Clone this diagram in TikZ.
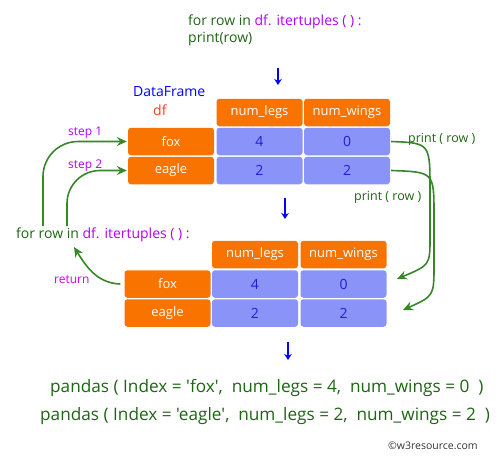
\documentclass[tikz,border=0pt]{standalone}
\usepackage{fontspec}
\setmainfont{Open Sans}[Ligatures=TeXOff]
\usetikzlibrary{arrows.meta}
\definecolor{cgreen}{RGB}{30,100,20}
\definecolor{cviolet}{RGB}{180,0,255}
\definecolor{cmag}{RGB}{220,0,220}
\definecolor{corange}{RGB}{249,115,0}
\definecolor{cblue}{RGB}{138,147,248}
\definecolor{cnum}{RGB}{30,30,210}
\definecolor{carrow}{RGB}{55,135,40}
\definecolor{cdf}{RGB}{255,60,30}
\tikzset{
  cell/.style={rounded corners=3pt, minimum width=86pt, minimum height=27.5pt, inner sep=0pt, font=\fontsize{13}{15}\selectfont},
  hcell/.style={cell, fill=corange, text=white},
  vcell/.style={cell, fill=cblue, text=cnum, font=\fontsize{14}{16}\selectfont},
  txt/.style={anchor=base west, inner sep=0pt, font=\fontsize{14}{16}\selectfont},
  small/.style={txt, font=\fontsize{12}{14}\selectfont},
  big/.style={txt, font=\fontsize{17.2}{20}\selectfont},
  garrow/.style={draw=carrow, line width=1.6pt, -{Stealth[length=10pt,width=9pt,inset=3.5pt]}},
  barrow/.style={draw=blue, line width=1.8pt, -{Stealth[length=6pt,width=7.5pt]}},
}
\begin{document}
\begin{tikzpicture}[x=1pt,y=-1pt]
\useasboundingbox (0,0) rectangle (504,464);
% top code
\node[txt, text=cgreen] (code1) at (188,25) {for row in \textcolor{cviolet}{df. itertuples ( ) :}};
\node[txt, text=cgreen] (code2) at (188,42) {print(row)};
\coordinate (a1s) at (278,68); \coordinate (a1e) at (278,85);
\draw[barrow] (a1s) -- (a1e);
% labels
\node[txt, text=blue] (dfr) at (133,96) {DataFrame};
\node[txt, text=cdf] (dfn) at (153,115) {df};
% top table
\node[hcell] (th1) at (259.5,112.5) {num\_legs};
\node[hcell] (th2) at (347,112.5) {num\_wings};
\node[hcell] (tfox) at (171,141.5) {fox};
\node[vcell] (tf1) at (259.5,141.5) {4};
\node[vcell] (tf2) at (347,141.5) {0};
\node[hcell] (teag) at (171,170.5) {eagle};
\node[vcell] (te1) at (259.5,170.5) {2};
\node[vcell] (te2) at (347,170.5) {\raisebox{-2pt}{2}};
\node[small, text=cviolet] (s1) at (68,135) {step 1};
\node[small, text=cviolet] (s2) at (68,168) {step 2};
\node[small, text=cgreen, font=\fontsize{12.5}{14}\selectfont] (p1) at (408,142) {print ( row )};
\node[small, text=cgreen, font=\fontsize{12.5}{14}\selectfont] (p2) at (354,200) {print ( row )};
\coordinate (a2s) at (285,198); \coordinate (a2e) at (285,219);
\draw[barrow] (a2s) -- (a2e);
% left loop
\node[txt, text=cgreen] (loop) at (16,238) {for row in \textcolor{cviolet}{df. itertuples ( ) :}};
\node[small, text=cmag] (ret) at (54,283) {return};
% bottom table
\node[hcell] (bh1) at (255,254.5) {num\_legs};
\node[hcell] (bh2) at (343.5,254.5) {num\_wings};
\node[hcell] (bfox) at (167.5,284) {fox};
\node[vcell] (bf1) at (255,284) {4};
\node[vcell] (bf2) at (343.5,284) {0};
\node[hcell] (beag) at (167.5,313) {eagle};
\node[vcell] (be1) at (255,313) {2};
\node[vcell] (be2) at (343.5,313) {\raisebox{-2pt}{2}};
\coordinate (a3s) at (288,342); \coordinate (a3e) at (288,360);
\draw[barrow] (a3s) -- (a3e);
% result
\node[big, text=cgreen] (r1) at (50,392) {pandas ( Index = 'fox',\ \ num\_legs = 4,\ \ num\_wings = 0\ \ )};
\node[big, text=cgreen] (r2) at (40,420) {pandas ( Index = 'eagle',\ \ num\_legs = 2,\ \ num\_wings = 2\ \ )};
\node[txt, text=black!80, font=\fontsize{10.5}{12}\selectfont] (w3) at (388,449) {\textcopyright w3resource.com};
% green connectors
\coordinate (g1s) at (43,226);
\coordinate (g2s) at (67,226);
\draw[garrow, rounded corners=35pt] (g1s) |- ([xshift=-1pt]tfox.west);
\draw[garrow, rounded corners=33pt] (g2s) |- ([xshift=-1pt]teag.west);
\coordinate (p1e) at (397,279);
\coordinate (p2e) at (403,310);
\draw[garrow] ([xshift=1pt]tf2.east) .. controls (430,143) .. (430,190) -- (430,238) .. controls (430,265) .. (p1e);
\draw[garrow] ([xshift=1pt]te2.east) .. controls (434,172) .. (434,215) -- (434,265) .. controls (434,296) .. (p2e);
\coordinate (rete) at (74,247);
\draw[garrow] ([xshift=-4pt]bfox.west) to[out=178,in=-58] (rete);
\end{tikzpicture}
\end{document}
